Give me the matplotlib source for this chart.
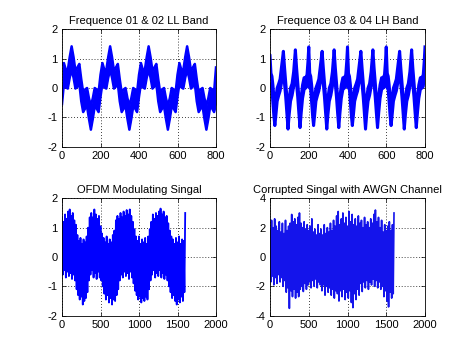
import numpy as np
import matplotlib
matplotlib.use("Agg")
import matplotlib.pyplot as plt

plt.rcParams['font.family'] = ['Liberation Sans', 'DejaVu Sans']

# ---------------- data ----------------
titles = ["Frequence 01 & 02 LL Band", "Frequence 03 & 04 LH Band",
          "OFDM Modulating Singal", "Corrupted Singal with AWGN Channel"]

# Top-left: band envelope sampled every 10 units (0..800)
tl_x = np.arange(0, 801, 10)
tl_upper = [0.80, 0.85, 0.62, 0.60, 1.05, 1.42, 1.05, 0.58, 0.70, 0.82,
            0.30, -0.15, -0.05, 0.00, -0.35, -0.60, -0.35, 0.00, -0.05, -0.15,
            0.45, 0.85, 0.62, 0.60, 1.05, 1.42, 1.05, 0.58, 0.70, 0.82,
            0.30, -0.15, -0.05, 0.00, -0.35, -0.60, -0.35, 0.00, -0.05, -0.15,
            0.45, 0.85, 0.62, 0.60, 1.05, 1.42, 1.05, 0.58, 0.70, 0.82,
            0.30, -0.15, -0.05, 0.00, -0.35, -0.60, -0.35, 0.00, -0.05, -0.15,
            0.45, 0.85, 0.62, 0.60, 1.05, 1.42, 1.05, 0.58, 0.70, 0.82,
            0.30, -0.15, -0.05, 0.00, -0.35, -0.60, -0.35, 0.00, -0.05, -0.15,
            0.70]
tl_lower = [-0.55, 0.15, 0.02, -0.02, 0.35, 0.62, 0.35, -0.02, 0.05, 0.15,
            -0.45, -0.82, -0.70, -0.62, -1.05, -1.42, -1.05, -0.62, -0.70, -0.82,
            -0.30, 0.15, 0.02, -0.02, 0.35, 0.62, 0.35, -0.02, 0.05, 0.15,
            -0.45, -0.82, -0.70, -0.62, -1.05, -1.42, -1.05, -0.62, -0.70, -0.82,
            -0.30, 0.15, 0.02, -0.02, 0.35, 0.62, 0.35, -0.02, 0.05, 0.15,
            -0.45, -0.82, -0.70, -0.62, -1.05, -1.42, -1.05, -0.62, -0.70, -0.82,
            -0.30, 0.15, 0.02, -0.02, 0.35, 0.62, 0.35, -0.02, 0.05, 0.15,
            -0.45, -0.82, -0.70, -0.62, -1.05, -1.42, -1.05, -0.62, -0.70, -0.82,
            -0.55]

# Top-right: band envelope at key points
tr_x = [0, 5, 10, 15, 20, 25, 30, 37, 45, 52, 60, 69, 75, 81, 87, 93, 99, 106, 114, 122,
        131, 137, 143, 149, 155, 161, 168, 176, 184, 191, 196,
        200, 205, 210, 215, 220, 225, 230, 237, 245, 252, 260, 269, 275, 281, 287, 293, 299, 306, 314, 322,
        331, 337, 343, 349, 355, 361, 368, 376, 384, 391, 396,
        400, 405, 410, 415, 420, 425, 430, 437, 445, 452, 460, 469, 475, 481, 487, 493, 499, 506, 514, 522,
        531, 537, 543, 549, 555, 561, 568, 576, 584, 591, 596,
        600, 605, 610, 615, 620, 625, 630, 637, 645, 652, 660, 669, 675, 681, 687, 693, 699, 706, 714, 722,
        731, 737, 743, 749, 755, 761, 768, 776, 784, 791, 796, 800]
tr_upper = [1.10, 0.50, 0.40, 0.10, -0.30, -0.72, -0.35, 0.00, 0.15, 0.30, 0.75, 1.25, 0.70, 0.20, -0.30, -0.85, -0.35, 0.00, 0.15, 0.55,
            1.30, 0.70, 0.20, -0.30, -0.80, -0.30, 0.10, 0.35, 0.35, 0.45, 0.90,
            1.40, 0.50, 0.40, 0.10, -0.30, -0.72, -0.35, 0.00, 0.15, 0.30, 0.75, 1.25, 0.70, 0.20, -0.30, -0.85, -0.35, 0.00, 0.15, 0.55,
            1.30, 0.70, 0.20, -0.30, -0.80, -0.30, 0.10, 0.35, 0.35, 0.45, 0.90,
            1.40, 0.50, 0.40, 0.10, -0.30, -0.72, -0.35, 0.00, 0.15, 0.30, 0.75, 1.25, 0.70, 0.20, -0.30, -0.85, -0.35, 0.00, 0.15, 0.55,
            1.30, 0.70, 0.20, -0.30, -0.80, -0.30, 0.10, 0.35, 0.35, 0.45, 0.90,
            1.40, 0.50, 0.40, 0.10, -0.30, -0.72, -0.35, 0.00, 0.15, 0.30, 0.75, 1.25, 0.70, 0.20, -0.30, -0.85, -0.35, 0.00, 0.15, 0.55,
            1.30, 0.70, 0.20, -0.30, -0.80, -0.30, 0.10, 0.35, 0.35, 0.45, 0.90, 1.40]
tr_lower = [0.10, 0.00, -0.05, -0.50, -0.95, -1.28, -0.95, -0.45, -0.25, -0.10, 0.20, 0.70, 0.15, -0.30, -0.85, -1.40, -0.90, -0.45, -0.25, 0.05,
            0.75, 0.15, -0.30, -0.85, -1.35, -0.85, -0.35, -0.05, 0.00, 0.05, 0.40,
            0.85, 0.00, -0.05, -0.50, -0.95, -1.28, -0.95, -0.45, -0.25, -0.10, 0.20, 0.70, 0.15, -0.30, -0.85, -1.40, -0.90, -0.45, -0.25, 0.05,
            0.75, 0.15, -0.30, -0.85, -1.35, -0.85, -0.35, -0.05, 0.00, 0.05, 0.40,
            0.85, 0.00, -0.05, -0.50, -0.95, -1.28, -0.95, -0.45, -0.25, -0.10, 0.20, 0.70, 0.15, -0.30, -0.85, -1.40, -0.90, -0.45, -0.25, 0.05,
            0.75, 0.15, -0.30, -0.85, -1.35, -0.85, -0.35, -0.05, 0.00, 0.05, 0.40,
            0.85, 0.00, -0.05, -0.50, -0.95, -1.28, -0.95, -0.45, -0.25, -0.10, 0.20, 0.70, 0.15, -0.30, -0.85, -1.40, -0.90, -0.45, -0.25, 0.05,
            0.75, 0.15, -0.30, -0.85, -1.35, -0.85, -0.35, -0.05, 0.00, 0.05, 0.40, 0.85]

# Bottom-left (OFDM): positive swings at x=0,20,...,1600, negative swings at x=10,30,...,1590
bl_pos = [1.35, 1.20, 1.45, 1.30, 1.55, 1.62, 1.40, 1.50, 1.25, 1.10,
          0.75, 0.55, 0.65, 0.45, 0.60, 0.50, 0.70, 1.00, 1.35, 1.50,
          1.35, 1.62, 1.45, 1.30, 1.40, 1.05, 0.80, 0.65, 0.50, 0.70,
          0.45, 0.60, 0.50, 0.75, 0.90, 1.25, 1.40, 1.30, 1.50, 1.35,
          1.55, 1.40, 1.60, 1.45, 1.62, 1.40, 1.20, 0.95, 0.70, 0.55,
          0.70, 0.45, 0.60, 0.50, 0.65, 0.45, 0.70, 0.95, 1.20, 1.45,
          1.30, 1.50, 1.40, 1.55, 1.65, 1.45, 1.55, 1.35, 1.40, 1.15,
          0.90, 0.70, 0.60, 0.45, 0.65, 0.50, 0.70, 0.45, 0.60, 0.55,
          1.50]
bl_neg = [-0.60, -0.45, -0.70, -0.50, -0.65, -0.55, -0.75, -0.60, -0.80, -1.10,
          -1.30, -1.45, -1.35, -1.62, -1.50, -1.40, -1.20, -0.80, -0.60, -0.45,
          -0.70, -0.55, -0.75, -0.50, -0.70, -0.80, -1.00, -1.25, -1.45, -1.30,
          -1.55, -1.40, -1.62, -1.45, -1.50, -1.30, -1.10, -0.80, -0.60, -0.70,
          -0.50, -0.65, -0.55, -0.75, -0.50, -0.70, -0.90, -1.15, -1.30, -1.45,
          -1.35, -1.55, -1.40, -1.50, -1.35, -1.45, -1.10, -0.80, -0.60, -0.45,
          -0.70, -0.55, -0.65, -0.45, -0.70, -0.55, -0.75, -0.60, -0.80, -1.00,
          -1.20, -1.40, -1.30, -1.50, -1.62, -1.45, -1.55, -1.35, -1.50, -1.20]

# Bottom-right (corrupted): positive swings at x=0,20,...,1600, negative at x=10,...,1590
br_pos = [1.9, 2.5, 2.0, 2.6, 2.1, 1.8, 2.4, 1.7, 2.3, 1.6,
          2.5, 1.8, 2.1, 2.3, 2.9, 2.4, 2.6, 2.2, 2.7, 3.0,
          2.3, 2.0, 2.4, 1.9, 2.2, 1.8, 2.1, 2.6, 1.7, 1.9,
          1.5, 2.2, 1.6, 1.9, 1.5, 2.2, 1.6, 2.0, 1.7, 2.3,
          1.8, 2.5, 2.1, 2.8, 3.1, 2.2, 2.6, 3.0, 2.3, 2.7,
          2.1, 3.1, 2.4, 2.9, 2.2, 2.6, 2.1, 2.8, 2.3, 2.5,
          2.0, 2.7, 2.2, 2.4, 2.0, 2.6, 2.3, 2.9, 3.2, 2.4,
          2.7, 2.0, 2.5, 1.7, 2.2, 1.8, 2.1, 2.4, 1.8, 2.2,
          3.0]
br_neg = [-1.7, -1.3, -1.9, -1.4, -1.8, -1.2, -1.7, -1.4, -2.0, -1.6,
          -2.4, -2.1, -3.5, -2.3, -2.7, -2.2, -2.8, -2.4, -2.7, -2.2,
          -2.0, -2.35, -1.8, -2.2, -1.9, -1.7, -2.1, -1.6, -2.0, -1.5,
          -2.1, -1.7, -1.9, -2.3, -1.9, -2.6, -2.0, -2.4, -2.1, -2.6,
          -2.2, -2.8, -2.3, -2.5, -3.0, -2.3, -2.7, -2.2, -2.9, -2.4,
          -2.8, -2.3, -3.1, -3.45, -2.5, -2.9, -2.2, -2.6, -1.8, -2.35,
          -1.7, -2.1, -1.6, -2.2, -1.7, -1.9, -1.5, -2.0, -1.6, -2.1,
          -1.7, -2.2, -2.0, -2.7, -2.3, -3.0, -3.4, -2.4, -2.8, -2.5]

x_ticks_top = [0, 200, 400, 600, 800]
x_ticks_bot = [0, 500, 1000, 1500, 2000]
y_ticks_2 = [-2, -1, 0, 1, 2]
y_ticks_4 = [-4, -2, 0, 2, 4]

# ---------------- figure ----------------
W, H = 474, 355
fig = plt.figure(figsize=(W / 100, H / 100), dpi=100)
fig.patch.set_facecolor('white')

def px_axes(x0, y0, x1, y1):
    return fig.add_axes([x0 / W, 1 - y1 / H, (x1 - x0) / W, (y1 - y0) / H])

axs = [px_axes(62, 29.3, 216, 146.7), px_axes(270, 29.3, 425, 146.7),
       px_axes(62, 198.3, 216, 315.7), px_axes(270, 198.3, 425, 315.7)]

BLUE = (0, 0, 1)

def style(ax, title, xlim, xticks, ylim, yticks):
    ax.set_xlim(xlim)
    ax.set_ylim(ylim)
    ax.set_xticks(xticks)
    ax.set_yticks(yticks)
    ax.set_xticklabels([str(t) for t in xticks])
    ax.set_yticklabels([str(t) for t in yticks])
    ax.tick_params(direction='in', top=True, right=True, length=3, width=0.5,
                   labelsize=8, pad=3, colors='black')
    ax.grid(True, color='black', linestyle=(0, (1, 2.5)), linewidth=0.6)
    ax.set_axisbelow(True)
    for s in ax.spines.values():
        s.set_linewidth(0.6)
        s.set_color('black')
        s.set_zorder(5)
    ax.set_title(title, fontsize=8, pad=4)

# top-left
ax = axs[0]
ax.fill_between(tl_x, tl_lower, tl_upper, color=BLUE, linewidth=0, zorder=2)
ax.plot(tl_x, tl_upper, color=BLUE, lw=1.8, zorder=2, solid_joinstyle='round')
ax.plot(tl_x, tl_lower, color=BLUE, lw=1.8, zorder=2, solid_joinstyle='round')
style(ax, titles[0], (0, 800), x_ticks_top, (-2, 2), y_ticks_2)

# top-right
ax = axs[1]
ax.fill_between(tr_x, tr_lower, tr_upper, color=BLUE, linewidth=0, zorder=2)
ax.plot(tr_x, tr_upper, color=BLUE, lw=2.2, zorder=2, solid_joinstyle='round')
ax.plot(tr_x, tr_lower, color=BLUE, lw=2.2, zorder=2, solid_joinstyle='round')
style(ax, titles[1], (0, 800), x_ticks_top, (-2, 2), y_ticks_2)

def zigzag(pos, neg, step):
    xp = np.arange(len(pos)) * step
    xn = np.arange(len(neg)) * step + step / 2
    xs = np.empty(len(pos) + len(neg))
    ys = np.empty(len(pos) + len(neg))
    xs[0::2] = xp
    xs[1::2] = xn
    ys[0::2] = pos
    ys[1::2] = neg
    return xs, ys

# bottom-left
ax = axs[2]
xs, ys = zigzag(bl_pos, bl_neg, 20)
ax.plot(xs, ys, color=BLUE, lw=1.3, zorder=2)
style(ax, titles[2], (0, 2000), x_ticks_bot, (-2, 2), y_ticks_2)

# bottom-right
ax = axs[3]
xs, ys = zigzag(br_pos, br_neg, 20)
ax.plot(xs, ys, color=(0.08, 0.08, 0.92), lw=1.2, zorder=2)
style(ax, titles[3], (0, 2000), x_ticks_bot, (-4, 4), y_ticks_4)

fig.savefig('out.png', dpi=100, facecolor='white')
